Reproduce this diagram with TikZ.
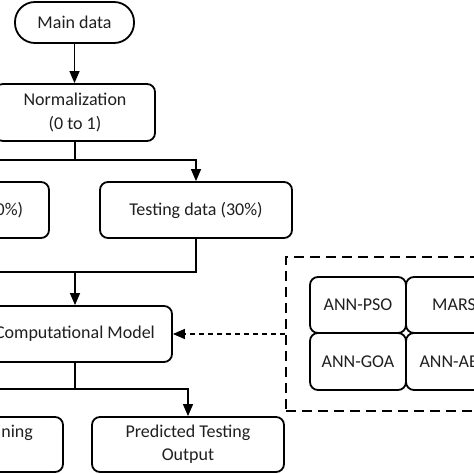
\documentclass[tikz,border=0pt]{standalone}
\usepackage{fontspec}
\setmainfont{Carlito}
\usetikzlibrary{arrows.meta}
\begin{document}
\begin{tikzpicture}[x=1pt,y=-1pt,
  box/.style={draw=black,line width=1.8pt,rounded corners=8pt,minimum width=192pt,minimum height=56pt,
    align=center,font=\fontsize{18}{23}\selectfont,text=black!88,inner sep=0pt},
  algo/.style={box,minimum width=96pt},
  line/.style={draw=black,line width=1.3pt},
  arrow/.style={line,-{Triangle[length=12pt,width=10pt]}},
  dasharrow/.style={arrow,dash pattern=on 5pt off 4pt},
  group/.style={draw=black,line width=2.4pt,dash pattern=on 10pt off 6pt,minimum width=244pt,minimum height=154pt,inner sep=0pt}]
\useasboundingbox (0,0) rectangle (474,474);
\clip (0,0) rectangle (474,474);
\node[box,minimum width=119pt,minimum height=41pt,rounded corners=20pt] (main) at (74.5,22.5) {Main data};
\node[box,minimum width=160pt,minimum height=57pt,font=\fontsize{18}{24}\selectfont] (norm) at (75,112.5) {Normalization\\(0 to 1)};
\node[box] (train) at (-47,210) {Training data (70\%)};
\node[box] (test) at (196,210) {Testing data (30\%)};
\node[box,minimum width=194pt] (comp) at (75,334) {Computational Model};
\node[box,minimum height=55pt] (ptrain) at (-33,444.5) {Predicted Training\\Output};
\node[box,minimum height=55pt] (ptest) at (188,444.5) {Predicted Testing\\Output};
\node[group] (grp) at (408,334) {};
\node[algo] (pso) at (358,305) {ANN-PSO};
\node[algo] (mars) at (454,305) {MARS};
\node[algo,minimum height=57pt] (goa) at (358,361.5) {ANN-GOA};
\node[algo,minimum height=57pt] (abc) at (454,361.5) {ANN-ABC};
\coordinate (s1) at (75,160);
\coordinate (m1) at (75,272);
\coordinate (s2) at (75,389);
\draw[arrow] (main.south) -- (main.south |- norm.north);
\draw[line] (norm.south) -- (s1);
\draw[arrow] (s1) -| (test.north);
\draw[arrow] (s1) -| (train.north);
\draw[line] (test.south) |- (m1);
\draw[line] (train.south) |- (m1);
\draw[arrow] (m1) -- (comp.north);
\draw[line] (comp.south) -- (s2);
\draw[arrow] (s2) -| (ptest.north);
\draw[arrow] (s2) -| (ptrain.north);
\draw[dasharrow] (grp.west) -- (comp.east);
\end{tikzpicture}
\end{document}
